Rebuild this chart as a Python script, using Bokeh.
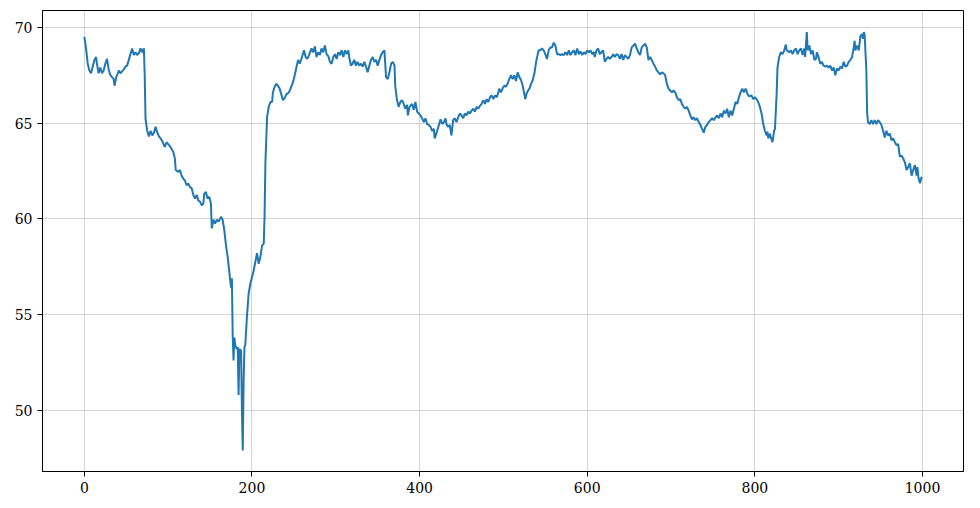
from bokeh.plotting import figure
from bokeh.models import Range1d, FixedTicker
from bokeh.embed import file_html
from bokeh.resources import INLINE

x_vals = [0, 1, 2, 4, 6, 8, 10, 12, 14, 15, 17, 19, 21, 23, 25, 27, 29, 31, 33, 35, 36, 38, 40, 41, 43, 45, 47, 49, 51, 53, 55, 57, 59, 61, 63, 65, 67, 69, 71, 72, 73, 75, 77, 79, 81, 83, 85, 87, 89, 91, 93, 95,
          96, 98, 100, 102, 104, 106, 108, 109, 112, 114, 116, 118, 120, 122, 124, 126, 128, 130, 132, 134, 136, 138, 140, 142, 143, 145, 147, 149, 151, 152, 154, 156, 158, 160, 163, 165, 167, 169, 171, 173, 174, 175, 176, 177, 178, 179, 180, 182, 183, 184, 185, 187, 188, 189, 190, 191, 192, 194, 196,
          198, 200, 202, 204, 206, 208, 210, 212, 214, 215, 216, 218, 220, 222, 224, 225, 227, 229, 231, 233, 235, 237, 239, 241, 244, 246, 249, 251, 253, 255, 257, 259, 262, 264, 266, 268, 271, 273, 275, 277, 279, 281, 283, 285, 287, 289, 291,
          293, 295, 297, 299, 301, 303, 305, 307, 309, 311, 313, 315, 316, 318, 320, 322, 324, 326, 328, 330, 332, 334, 336, 338, 340, 342, 344, 346, 348, 350, 352, 354, 356, 358, 359, 360, 362, 364, 366, 368, 370, 371, 373, 375, 377, 379, 381, 383, 385, 386, 388, 391, 393, 395,
          397, 399, 401, 403, 405, 407, 409, 411, 413, 415, 417, 418, 421, 423, 425, 427, 429, 431, 432, 434, 436, 438, 440, 442, 444, 446, 448, 450, 452, 454, 456, 458, 460, 462, 464, 466, 468, 470, 472, 474, 476, 478, 480, 482, 484, 486, 488, 490, 492,
          494, 495, 497, 499, 501, 503, 505, 507, 509, 511, 513, 515, 517, 519, 521, 523, 525, 526, 528, 531, 533, 535, 537, 539, 541, 542, 544, 546, 548, 550, 552, 554, 556, 558, 560, 562, 564, 566, 568, 570, 572, 574, 576, 578, 580, 582, 584, 586, 588, 590,
          592, 594, 596, 598, 600, 602, 604, 606, 608, 609, 611, 613, 615, 617, 619, 621, 623, 625, 627, 629, 631, 633, 635, 637, 639, 641, 643, 645, 647, 649, 651, 653, 655, 657, 659, 661, 663, 665, 667, 669, 671, 673, 675, 677, 679, 681, 683, 685, 687, 689, 691, 693,
          695, 697, 699, 701, 703, 705, 707, 709, 711, 713, 715, 717, 719, 721, 723, 725, 727, 729, 731, 733, 735, 737, 739, 741, 743, 745, 747, 749, 751, 753, 755, 757, 759, 761, 763, 765, 767, 769, 771, 773, 775, 777, 779, 781, 783, 785, 787, 789, 791,
          793, 796, 798, 800, 802, 804, 806, 808, 810, 812, 814, 815, 816, 818, 819, 821, 823, 824, 826, 827, 829, 831, 833, 835, 837, 838, 841, 843, 845, 847, 849, 851, 853, 855, 857, 859, 860, 862, 863, 865, 867, 869, 871, 873, 874, 876, 878, 880, 882, 884, 886, 888, 890, 892, 894,
          896, 898, 900, 902, 904, 906, 908, 910, 912, 914, 916, 918, 919, 920, 922, 924, 926, 928, 929, 930, 931, 933, 934, 935, 937, 939, 941, 943, 945, 947, 949, 951, 953, 955, 957, 959, 961, 963, 965, 967, 969, 971, 973, 975, 977, 979, 981, 983, 985, 987, 989, 991, 993, 994, 995, 997, 999]

y_vals = [69.5, 69.2, 68.9, 68.1, 67.75, 67.6, 67.95, 68.3, 68.45, 68.1, 67.6, 67.9, 67.6, 67.75, 68.1, 68.35, 67.8, 67.5, 67.4, 67.3, 66.95, 67.4, 67.6, 67.75, 67.6, 67.7, 67.8, 67.95, 68.0, 68.3, 68.6, 68.9, 68.55, 68.7, 68.55, 68.65, 68.9, 68.7, 68.9, 67.5, 65.2, 64.6, 64.3, 64.6, 64.35, 64.5, 64.8, 64.5, 64.3, 64.2, 64.05, 63.85,
          63.75, 64.0, 63.9, 63.8, 63.65, 63.5, 63.15, 62.55, 62.45, 62.55, 62.25, 62.1, 62.0, 61.75, 61.85, 61.65, 61.6, 61.25, 61.05, 61.25, 60.95, 60.9, 60.7, 60.8, 61.3, 61.4, 61.05, 61.15, 60.8, 59.5, 59.95, 59.75, 59.95, 59.85, 60.1, 59.95, 59.4, 58.6, 58.0, 57.2, 56.8, 56.4, 56.9, 53.9, 52.6, 53.8, 53.4, 53.2, 53.3, 50.8, 53.2, 53.1, 50.0, 47.9, 51.5, 53.3, 53.4, 54.9, 56.1,
          56.6, 56.95, 57.3, 57.75, 58.2, 57.65, 58.0, 58.6, 58.7, 60.1, 62.9, 65.3, 65.85, 66.1, 66.1, 66.6, 66.9, 67.05, 66.95, 66.8, 66.5, 66.2, 66.3, 66.5, 66.6, 66.8, 67.15, 67.5, 67.9, 68.3, 68.1, 68.35, 68.8, 68.45, 68.35, 68.55, 68.9, 68.7, 69.0, 68.45, 68.7, 68.55, 68.9, 68.7, 69.05, 68.6, 68.5,
          68.2, 68.1, 68.45, 68.6, 68.35, 68.7, 68.55, 68.8, 68.45, 68.8, 68.6, 68.8, 68.45, 68.0, 68.1, 68.3, 68.0, 68.2, 68.0, 68.1, 67.95, 68.2, 67.95, 67.65, 68.0, 68.3, 68.45, 68.2, 68.3, 68.0, 68.3, 68.55, 68.7, 68.8, 68.1, 67.4, 67.3, 67.65, 68.1, 68.2, 68.0, 66.9, 66.2, 65.85, 66.1, 66.2, 66.0, 65.75, 65.95, 65.4, 65.85, 66.0, 65.7, 66.1,
          65.6, 65.5, 65.4, 65.25, 65.05, 65.25, 64.95, 64.9, 64.8, 64.6, 64.7, 64.2, 64.6, 64.9, 65.2, 64.95, 65.05, 65.25, 64.95, 64.8, 64.9, 64.35, 65.15, 65.25, 65.05, 65.3, 65.5, 65.4, 65.25, 65.5, 65.4, 65.6, 65.5, 65.65, 65.75, 65.6, 65.85, 65.75, 65.9, 66.0, 66.2, 66.0, 66.25, 66.1, 66.35, 66.45, 66.25, 66.45, 66.35,
          66.6, 66.8, 66.6, 66.8, 66.95, 66.9, 67.05, 67.3, 67.5, 67.3, 67.5, 67.2, 67.65, 67.4, 67.25, 66.95, 66.5, 66.25, 66.6, 66.8, 67.05, 67.25, 67.6, 68.2, 68.6, 68.8, 68.8, 68.9, 68.8, 68.6, 68.35, 68.8, 68.95, 68.95, 69.2, 69.05, 68.6, 68.6, 68.55, 68.6, 68.55, 68.7, 68.55, 68.8, 68.55, 68.7, 68.8, 68.55, 68.9, 68.6,
          68.75, 68.55, 68.7, 68.6, 68.8, 68.7, 68.8, 68.6, 68.7, 68.45, 68.8, 68.9, 68.6, 68.7, 68.8, 68.2, 68.35, 68.45, 68.35, 68.45, 68.6, 68.45, 68.6, 68.55, 68.35, 68.6, 68.3, 68.55, 68.45, 68.35, 68.55, 68.95, 69.05, 69.15, 68.9, 68.7, 68.55, 68.95, 69.05, 69.15, 68.95, 68.3, 68.45, 68.3, 68.1, 67.95, 67.75, 67.65, 67.55, 67.65, 67.6, 67.5,
          67.05, 66.8, 66.7, 66.6, 66.7, 66.6, 66.35, 66.2, 66.25, 66.0, 65.85, 65.75, 65.85, 65.65, 65.4, 65.2, 65.3, 65.15, 65.25, 65.05, 64.9, 64.7, 64.5, 64.8, 64.9, 65.05, 65.15, 65.25, 65.15, 65.3, 65.4, 65.25, 65.5, 65.3, 65.65, 65.5, 65.75, 65.3, 65.65, 65.4, 65.75, 66.1, 66.0, 66.35, 66.6, 66.8, 66.6, 66.8, 66.55,
          66.4, 66.45, 66.25, 66.35, 66.25, 66.1, 65.85, 65.5, 64.95, 64.6, 64.35, 64.55, 64.2, 64.45, 64.25, 64.0, 64.6, 64.7, 66.5, 67.9, 68.45, 68.7, 68.6, 68.8, 69.1, 68.8, 68.7, 68.8, 68.6, 68.8, 68.9, 68.6, 68.8, 68.9, 68.55, 68.9, 68.45, 69.75, 68.8, 69.05, 68.6, 68.8, 68.3, 68.35, 68.7, 68.45, 68.1, 68.2, 68.0, 67.95, 68.0, 67.9, 68.0, 67.75, 67.9,
          67.5, 67.85, 67.75, 67.95, 67.85, 68.2, 67.95, 68.0, 68.2, 68.3, 68.45, 68.95, 69.3, 68.8, 69.05, 68.8, 69.55, 69.65, 69.4, 69.75, 69.6, 67.8, 65.5, 65.05, 64.95, 65.15, 64.95, 65.15, 64.95, 65.15, 65.05, 64.9, 64.6, 64.25, 64.6, 64.35, 64.45, 64.1, 64.2, 64.0, 63.85, 63.9, 63.25, 63.3, 63.15, 62.95, 62.55, 62.7, 62.9, 62.25, 62.55, 62.8, 62.25, 62.7, 62.2, 61.85, 62.2]

x_ticks = [0, 200, 400, 600, 800, 1000]
y_ticks = [50, 55, 60, 65, 70]

p = figure(width=964, height=500, output_backend="svg", toolbar_location=None,
           x_range=Range1d(-49.95, 1048.95), y_range=Range1d(46.8, 70.88),
           min_border_left=42, min_border_top=10, min_border_right=1, min_border_bottom=29)

p.line(x_vals, y_vals, line_color="#1f77b4", line_width=2)

p.outline_line_color = "black"
p.outline_line_width = 1
p.background_fill_color = "white"
p.border_fill_color = "white"

for ax in (p.xaxis, p.yaxis):
    ax.axis_line_color = "black"
    ax.major_tick_line_color = "black"
    ax.minor_tick_line_color = None
    ax.major_tick_in = 0
    ax.major_tick_out = 5
    ax.major_label_text_font = "DejaVu Serif"
    ax.major_label_text_font_size = "14px"
    ax.major_label_text_color = "black"
    ax.major_label_standoff = 5

p.xaxis.ticker = FixedTicker(ticks=x_ticks)
p.yaxis.ticker = FixedTicker(ticks=y_ticks)

p.xgrid.ticker = FixedTicker(ticks=x_ticks)
p.ygrid.ticker = FixedTicker(ticks=y_ticks)
for g in (p.xgrid, p.ygrid):
    g.grid_line_color = "#b0b0b0"
    g.grid_line_alpha = 0.55
    g.grid_line_width = 1

open("out.html", "w").write(file_html(p, INLINE))
